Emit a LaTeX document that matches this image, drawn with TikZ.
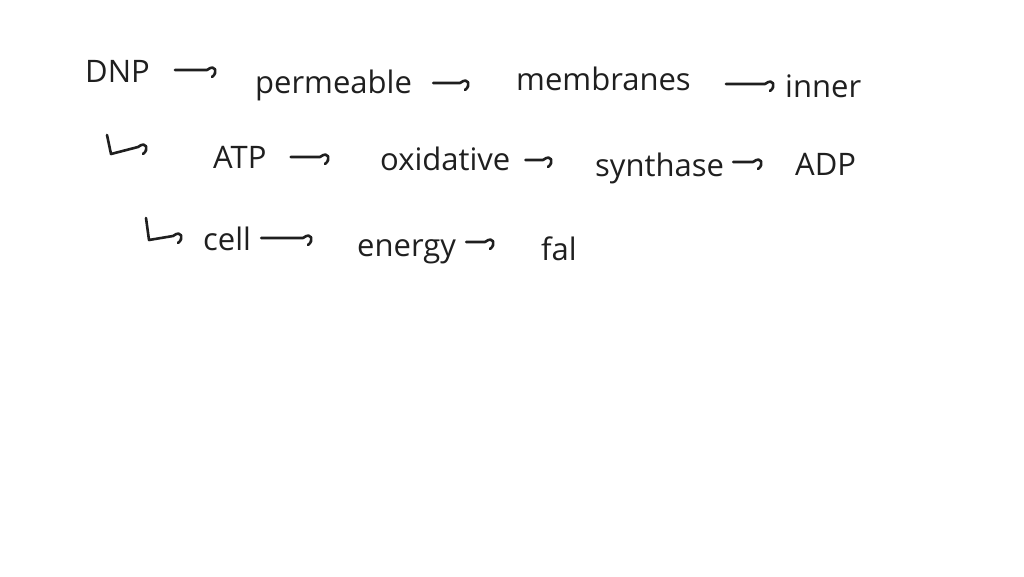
\documentclass[tikz,border=0pt]{standalone}
\usepackage{fontspec}
\setmainfont{Open Sans}
\usetikzlibrary{calc}
\begin{document}
\begin{tikzpicture}[x=1pt,y=-1pt,
  ink/.style={draw=black!88,line width=2.6pt,line cap=round,line join=round},
  word/.style={anchor=base west,inner sep=0pt,text=black!88,font=\fontsize{31}{36}\selectfont},
  curl/.style={insert path={.. controls +(9,-7) and +(6,-4) .. +(5,7)}}]
\useasboundingbox[fill=white] (0,0) rectangle (1024,576);
% row 1
\node[word] (dnp)  at (85,82)  {DNP};
\node[word] (perm) at (255,93) {permeable};
\node[word] (memb) at (516,90) {membranes};
\node[word] (inn)  at (785,97) {inner};
% row 2
\node[word] (atp)  at (213,168) {ATP};
\node[word] (oxi)  at (380,170) {oxidative};
\node[word] (syn)  at (595,176) {synthase};
\node[word] (adp)  at (795,175) {ADP};
% row 3
\node[word] (cell) at (203,250) {cell};
\node[word] (ener) at (357,256) {energy};
\node[word] (fal)  at (541,260) {fal};
% arrows
\draw[ink] ($(dnp.east |- 0,70)+(25,0)$) -- ($(perm.west |- 0,70)-(48,0)$) [curl];
\draw[ink] ($(perm.east |- 0,83)+(21,0)$) -- ($(memb.west |- 0,83)-(56,0)$) [curl];
\draw[ink] ($(memb.east |- 0,84)+(35,0)$) -- ($(inn.west |- 0,84)-(20,0)$) [curl];
\draw[ink] ($(atp.east |- 0,157)+(24,0)$) -- ($(oxi.west |- 0,157)-(60,0)$) [curl];
\draw[ink] ($(oxi.east |- 0,160)+(15,0)$) -- ($(syn.west |- 0,160)-(52,0)$) [curl];
\draw[ink] ($(syn.east |- 0,162)+(9,0)$) -- ($(adp.west |- 0,162)-(42,0)$) [curl];
\draw[ink] ($(cell.east |- 0,238)+(10,0)$) -- ($(ener.west |- 0,238)-(54,0)$) [curl];
\draw[ink] ($(ener.east |- 0,242)+(10,0)$) -- ($(fal.west |- 0,242)-(56,0)$) [curl];
% hooks
\coordinate (h1) at (107,135);
\coordinate (h2) at (146,218);
\draw[ink] (h1) -- ($(h1)+(4,19)$) -- ($(h1)+(31,12)$) [curl];
\draw[ink] (h2) -- ($(h2)+(3,22)$) -- ($(h2)+(27,18)$) [curl];
\end{tikzpicture}
\end{document}
